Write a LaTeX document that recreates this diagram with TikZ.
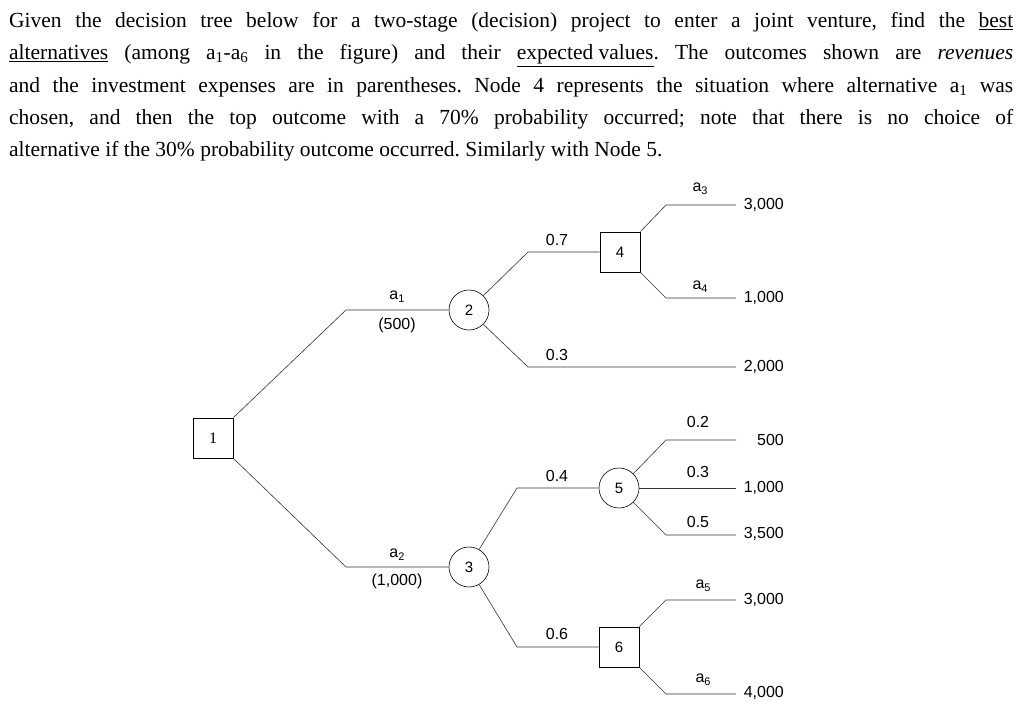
\documentclass[tikz,border=0pt]{standalone}
\usepackage{fontspec}
\setmainfont{Liberation Serif}
\newfontfamily\diagfont{Liberation Sans}
\newcommand{\sbx}[1]{\raisebox{-3pt}{\fontsize{11}{12}\selectfont #1}}
\begin{document}
\frenchspacing
\begin{tikzpicture}[x=1pt,y=-1pt,
  dec/.style={draw,line width=0.8pt,minimum size=40pt,inner sep=0pt,font=\diagfont\fontsize{15}{16}\selectfont},
  chance/.style={draw,circle,line width=0.6pt,minimum size=40pt,inner sep=0pt,font=\diagfont\fontsize{15}{16}\selectfont},
  br/.style={line width=0.6pt,draw=black!80},
  lab/.style={font=\diagfont\fontsize{16}{18}\selectfont,inner sep=0pt},
]
\useasboundingbox (0,0) rectangle (1024,725);
\node[anchor=north west,text width=1004pt,align=justify,inner sep=0pt,font=\fontsize{21.5}{32.4}\selectfont] (txt) at (9,12) {Given the decision tree below for a two-stage (decision) project to enter a joint venture, find the \underline{best}\linebreak \underline{alternatives} (among a\textsubscript{1}-a\textsubscript{6} in the figure) and their \underline{expected values}. The outcomes shown are \textit{revenues}\linebreak and the investment expenses are in parentheses. Node 4 represents the situation where alternative a\textsubscript{1} was\linebreak chosen, and then the top outcome with a 70\% probability occurred; note that there is no choice of\linebreak alternative if the 30\% probability outcome occurred. Similarly with Node 5.};
% nodes
\node[dec,minimum size=40pt,font=\fontsize{16}{16}\selectfont] (n1) at (213,438) {1};
\node[chance] (n2) at (469,310) {2};
\node[chance] (n3) at (469,567) {3};
\node[dec] (n4) at (620,252) {4};
\node[chance] (n5) at (619,488) {5};
\node[dec] (n6) at (619,647) {6};
% end coordinates
\coordinate (e1) at (736,205);
\coordinate (e2) at (736,298);
\coordinate (e3) at (736,367);
\coordinate (e4) at (736,440);
\coordinate (e5) at (736,488);
\coordinate (e6) at (736,535);
\coordinate (e7) at (736,600);
\coordinate (e8) at (736,694);
% branches
\draw[br] (n1.north east) -- (346,310) -- (n2.west);
\draw[br] (n1.south east) -- (346,567) -- (n3.west);
\draw[br] (n2.45) -- (528,252) -- (n4.west);
\draw[br] (n2.-45) -- (528,367) -- (e3);
\draw[br] (n4.north east) -- (666,205) -- (e1);
\draw[br] (n4.south east) -- (666,298) -- (e2);
\draw[br] (n3.60) -- (517,488) -- (n5.west);
\draw[br] (n3.-60) -- (517,647) -- (n6.west);
\draw[br] (n5.45) -- (666,440) -- (e4);
\draw[br] (n5.east) -- (e5);
\draw[br] (n5.-45) -- (666,535) -- (e6);
\draw[br] (n6.north east) -- (666,600) -- (e7);
\draw[br] (n6.south east) -- (666,694) -- (e8);
% labels
\node[lab] (l1) at (397,297) {a\sbx{1}};
\node[lab] (l2) at (397,325) {(500)};
\node[lab] (l3) at (397,555) {a\sbx{2}};
\node[lab] (l4) at (397,581) {(1,000)};
\node[lab] (l5) at (557,240) {0.7};
\node[lab] (l6) at (557,355) {0.3};
\node[lab] (l7) at (557,476) {0.4};
\node[lab] (l8) at (557,634) {0.6};
\node[lab] (l9) at (700,189) {a\sbx{3}};
\node[lab] (l10) at (700,287) {a\sbx{4}};
\node[lab] (l11) at (698,422) {0.2};
\node[lab] (l12) at (698,472) {0.3};
\node[lab] (l13) at (698,522) {0.5};
\node[lab] (l14) at (703,586) {a\sbx{5}};
\node[lab] (l15) at (703,680) {a\sbx{6}};
\node[lab,anchor=east] (v1) at (784,205) {3,000};
\node[lab,anchor=east] (v2) at (784,298) {1,000};
\node[lab,anchor=east] (v3) at (784,367) {2,000};
\node[lab,anchor=east] (v4) at (784,440) {500};
\node[lab,anchor=east] (v5) at (784,488) {1,000};
\node[lab,anchor=east] (v6) at (784,534) {3,500};
\node[lab,anchor=east] (v7) at (784,600) {3,000};
\node[lab,anchor=east] (v8) at (784,693) {4,000};
\end{tikzpicture}
\end{document}
